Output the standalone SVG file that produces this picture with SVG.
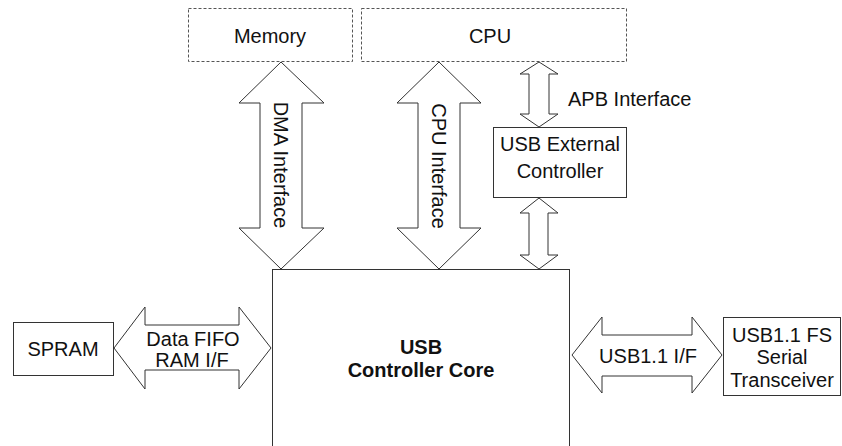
<svg xmlns="http://www.w3.org/2000/svg" width="842" height="446" viewBox="0 0 842 446">
<style>
  .box { fill: #fff; stroke: #333; stroke-width: 1; }
  .dash { fill: #fff; stroke: #555; stroke-width: 1; stroke-dasharray: 3 2; }
  .arr { fill: #fff; stroke: #333; stroke-width: 1; stroke-linejoin: miter; }
  .t { font-family: "Liberation Sans", Arial, Helvetica, sans-serif; font-size: 20px; fill: #111; text-anchor: middle; }
  .b { font-weight: bold; }
</style>
<rect width="842" height="446" fill="#fff"/>

<g id="memory">
  <rect class="dash" x="188.5" y="8.5" width="164" height="53"/>
  <text class="t" x="270" y="43">Memory</text>
</g>
<g id="cpu">
  <rect class="dash" x="361.5" y="8.5" width="265" height="53"/>
  <text class="t" x="490" y="43">CPU</text>
</g>
<g id="usb-ext">
  <rect class="box" x="493.5" y="127.5" width="133" height="70"/>
  <text class="t" x="560" y="151">USB External</text>
  <text class="t" x="560" y="178">Controller</text>
</g>
<g id="core">
  <rect class="box" x="272.5" y="269.5" width="297" height="200"/>
  <text class="t b" x="421" y="354">USB</text>
  <text class="t b" x="421" y="377">Controller Core</text>
</g>
<g id="spram">
  <rect class="box" x="13.5" y="322.5" width="100" height="53"/>
  <text class="t" x="63" y="356">SPRAM</text>
</g>
<g id="transceiver">
  <rect class="box" x="723.5" y="317.5" width="117" height="78"/>
  <text class="t" x="782" y="342">USB1.1 FS</text>
  <text class="t" x="782" y="364">Serial</text>
  <text class="t" x="782" y="387">Transceiver</text>
</g>

<g id="connectors">
  <g id="dma-if">
    <polygon class="arr" points="281,62 324,103 302,103 302,228 324,228 281,269 239,228 260,228 260,103 239,103"/>
    <text class="t" transform="translate(273.5,165) rotate(90)">DMA Interface</text>
  </g>
  <g id="cpu-if">
    <polygon class="arr" points="439,62 481,103 460,103 460,228 481,228 439,269 397,228 418,228 418,103 397,103"/>
    <text class="t" transform="translate(431.5,166) rotate(90)">CPU Interface</text>
  </g>
  <g id="apb-if">
    <polygon class="arr" points="539,62 558,74 549,74 549,114 558,114 539,127 520,114 529,114 529,74 520,74"/>
    <text class="t" x="568" y="106" style="text-anchor:start">APB Interface</text>
  </g>
  <g id="ext-core">
    <polygon class="arr" points="539,198 558,213 548,213 548,255 558,255 539,269 520,255 529,255 529,213 520,213"/>
  </g>
  <g id="fifo-if">
    <polygon class="arr" points="114,348 145,307 145,325 239,325 239,307 271,348 239,389 239,370 145,370 145,389"/>
    <text class="t" x="193" y="346">Data FIFO</text>
    <text class="t" x="192" y="367">RAM I/F</text>
  </g>
  <g id="usb11-if">
    <polygon class="arr" points="572,355 602,317 602,335 692,335 692,317 722,355 692,393 692,376 602,376 602,393"/>
    <text class="t" x="648" y="363">USB1.1 I/F</text>
  </g>
</g>
</svg>
